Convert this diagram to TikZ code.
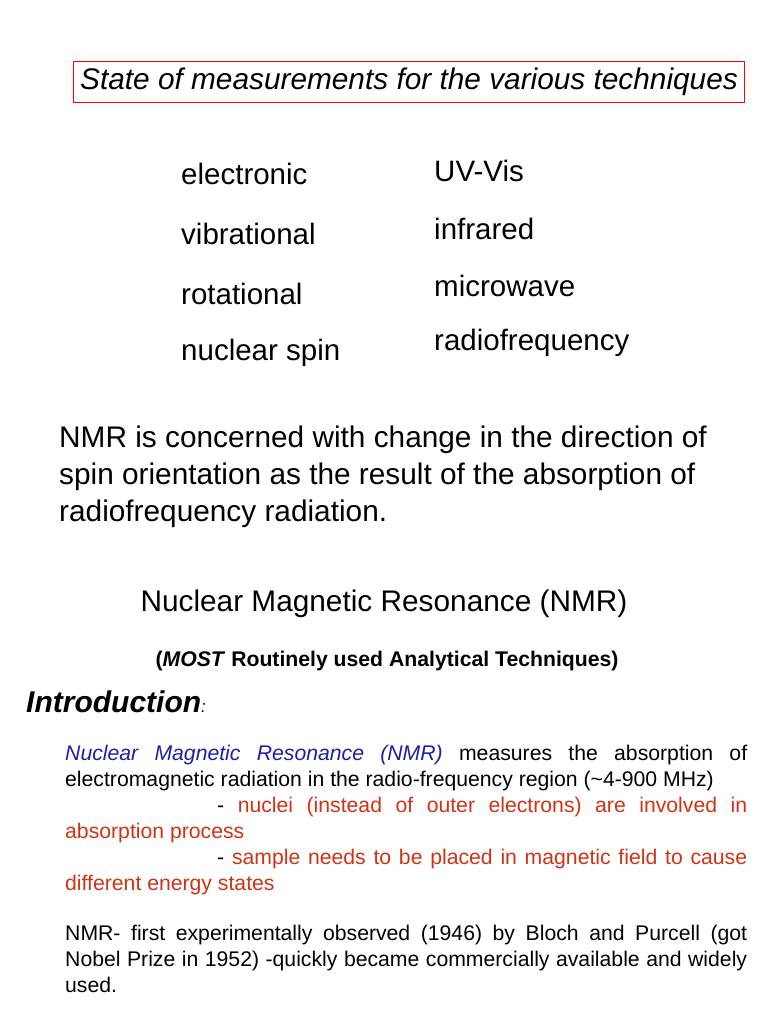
\documentclass[tikz,border=0pt]{standalone}
\usepackage{fontspec}
\setmainfont{Liberation Sans}
\definecolor{nblue}{RGB}{30,30,170}
\definecolor{nred}{RGB}{210,50,20}
\begin{document}
\begin{tikzpicture}[x=1pt,y=-1pt,
  lbl/.style={anchor=west,inner sep=0pt,font=\fontsize{29.5}{34}\selectfont},
  body/.style={anchor=north west,inner sep=0pt,text width=682pt,align=justify,font=\fontsize{21.2}{26}\selectfont}]
\useasboundingbox (0,0) rectangle (768,1024);
\node[draw=red,line width=1pt,inner sep=7pt,font=\fontsize{29.8}{34}\selectfont\itshape] (title) at (409,82) {State of measurements for the various techniques};
\node[lbl] (e1) at (181,174) {electronic};
\node[lbl] (e2) at (181,234) {vibrational};
\node[lbl] (e3) at (181,294) {rotational};
\node[lbl] (e4) at (181,353) {nuclear spin};
\node[lbl] (t1) at (434,171) {UV-Vis};
\node[lbl] (t2) at (434,229) {infrared};
\node[lbl] (t3) at (434,286) {microwave};
\node[lbl] (t4) at (434,343) {radiofrequency};
\node[anchor=north west,inner sep=0pt,align=left,font=\fontsize{29.8}{37}\selectfont] (p) at (59,426) {NMR is concerned with change in the direction of\\spin orientation as the result of the absorption of\\radiofrequency radiation.};
\node[inner sep=0pt,font=\fontsize{29.8}{34}\selectfont] (nmr) at (384,604) {Nuclear Magnetic Resonance (NMR)};
\node[inner sep=0pt,font=\fontsize{21.2}{25}\selectfont\bfseries] (most) at (387,661) {(\textit{MOST} Routinely used Analytical Techniques)};
\node[anchor=west,inner sep=0pt,font=\fontsize{30}{34}\selectfont\bfseries\itshape] (intro) at (26,702) {Introduction\textmd{\fontsize{17}{20}\selectfont:}};
\node[body] (b1) at (65,745) {\textcolor{nblue}{\textit{Nuclear Magnetic Resonance (NMR)}} measures the absorption of\linebreak electromagnetic radiation in the radio-frequency region (\textasciitilde 4-900 MHz)\\
\hspace*{152pt}- \textcolor{nred}{nuclei (instead of outer electrons) are involved in\linebreak absorption process}\\
\hspace*{152pt}- \textcolor{nred}{sample needs to be placed in magnetic field to cause\linebreak different energy states}};
\node[body] (b2) at (65,925) {NMR- first experimentally observed (1946) by Bloch and Purcell (got\linebreak Nobel Prize in 1952) -quickly became commercially available and widely\linebreak used.};
\end{tikzpicture}
\end{document}
